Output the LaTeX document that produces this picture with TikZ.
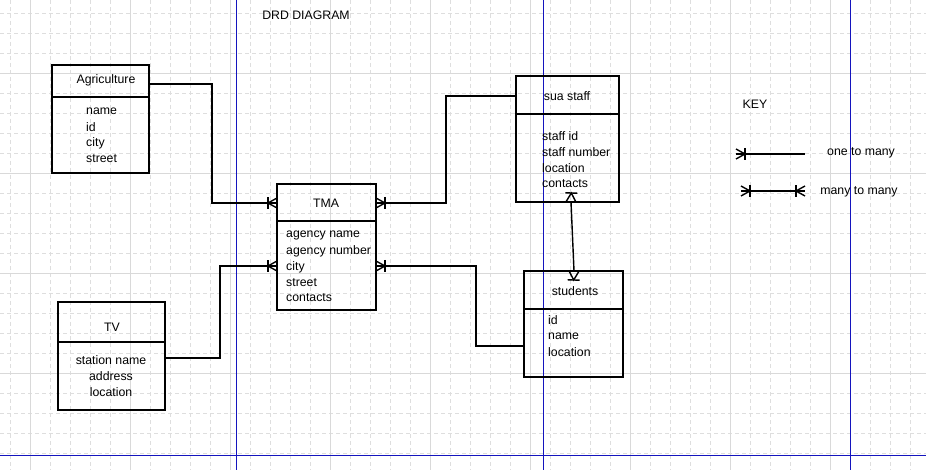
\documentclass[tikz,border=0pt]{standalone}
\usepackage{fontspec}
\setmainfont{Liberation Sans}
\definecolor{gridblue}{RGB}{20,20,190}
\begin{document}
\begin{tikzpicture}[x=1pt,y=-1pt,
  box/.style={draw=black,line width=1.6pt},
  conn/.style={draw=black,line width=1.4pt},
  txt/.style={font=\fontsize{12.3}{14}\selectfont,inner sep=0pt,anchor=west},
  ctxt/.style={font=\fontsize{12.3}{14}\selectfont,inner sep=0pt},
  minor/.style={draw=black!13,dash pattern=on 4pt off 3pt,line width=0.6pt},
  major/.style={draw=black!15,line width=0.8pt},
  blueline/.style={draw=gridblue,line width=0.9pt}]
\useasboundingbox (0,0) rectangle (926,470);
\fill[white] (0,0) rectangle (926,470);
% grid
\foreach \x in {10,30,...,920} {\draw[minor] (\x,0) -- (\x,470);}
\foreach \y in {13,33,...,470} {\draw[minor] (0,\y) -- (926,\y);}
\foreach \x in {30,130,...,920} {\draw[major] (\x,0) -- (\x,470);}
\foreach \y in {73,173,...,470} {\draw[major] (0,\y) -- (926,\y);}
\foreach \x in {236,543,850} {\draw[blueline] (\x,0) -- (\x,470);}
\draw[blueline] (0,455) -- (926,455);
% crow's foot: #1 point at entity edge, #2 rotation (direction pointing away from entity)
\newcommand{\crowft}[2]{\begin{scope}[shift={#1},rotate=#2]
  \draw[line width=1.4pt] (0,-5) -- (9,0) -- (0,5);
  \draw[line width=1.4pt] (9,-6) -- (9,6);
\end{scope}}
\node[ctxt] (title) at (306,15) {DRD DIAGRAM};
% boxes
\draw[box] (52,65) rectangle (149,173); \draw[box] (52,97) -- (149,97);
\node[ctxt] (agr) at (106,80) {Agriculture};
\node[txt] (a1) at (86,111) {name};
\node[txt] (a2) at (86,127) {id};
\node[txt] (a3) at (86,143) {city};
\node[txt] (a4) at (86,159) {street};

\draw[box] (277,184) rectangle (376,310); \draw[box] (277,221) -- (376,221);
\node[ctxt] (tma) at (326,203) {TMA};
\node[txt] (t1) at (286,235) {agency name};
\node[txt] (t2) at (286,251) {agency number};
\node[txt] (t3) at (286,267) {city};
\node[txt] (t4) at (286,283) {street};
\node[txt] (t5) at (286,298) {contacts};

\draw[box] (516,76) rectangle (619,202); \draw[box] (516,114) -- (619,114);
\node[ctxt] (sua) at (567,96) {sua staff};
\node[txt] (s1) at (542,136) {staff id};
\node[txt] (s2) at (542,152) {staff number};
\node[txt] (s3) at (542,168) {location};
\node[txt] (s4) at (542,184) {contacts};

\draw[box] (524,271) rectangle (623,377); \draw[box] (524,309) -- (623,309);
\node[ctxt] (stu) at (575,291) {students};
\node[txt] (u1) at (548,320) {id};
\node[txt] (u2) at (548,336) {name};
\node[txt] (u3) at (548,352) {location};

\draw[box] (58,302) rectangle (165,410); \draw[box] (58,342) -- (165,342);
\node[ctxt] (tv) at (112,327) {TV};
\node[ctxt] (v1) at (111,360) {station name};
\node[ctxt] (v2) at (111,376) {address};
\node[ctxt] (v3) at (111,392) {location};

% connectors
\draw[conn] (149,84) -- (212,84) -- (212,203) -- (277,203);
\crowft{(277,203)}{180}
\draw[conn] (165,358) -- (220,358) -- (220,266) -- (277,266);
\crowft{(277,266)}{180}
\draw[conn] (516,96) -- (446,96) -- (446,203) -- (376,203);
\crowft{(376,203)}{0}
\draw[conn] (524,346) -- (476,346) -- (476,266) -- (376,266);
\crowft{(376,266)}{0}
\draw[conn] (571,202) -- (574,271);
\crowft{(571,202)}{88}
\crowft{(574,271)}{-92}

% key
\node[ctxt] (key) at (755,104) {KEY};
\coordinate (k1a) at (736,154); \coordinate (k1b) at (805,154);
\draw[conn] (k1a) -- (k1b); \crowft{(736,154)}{0}
\node[ctxt] (k1t) at (861,153) {one to many};
\coordinate (k2a) at (741,191); \coordinate (k2b) at (805,191);
\draw[conn] (k2a) -- (k2b); \crowft{(741,191)}{0} \crowft{(805,191)}{180}
\node[ctxt] (k2t) at (859,192) {many to many};
\end{tikzpicture}
\end{document}
